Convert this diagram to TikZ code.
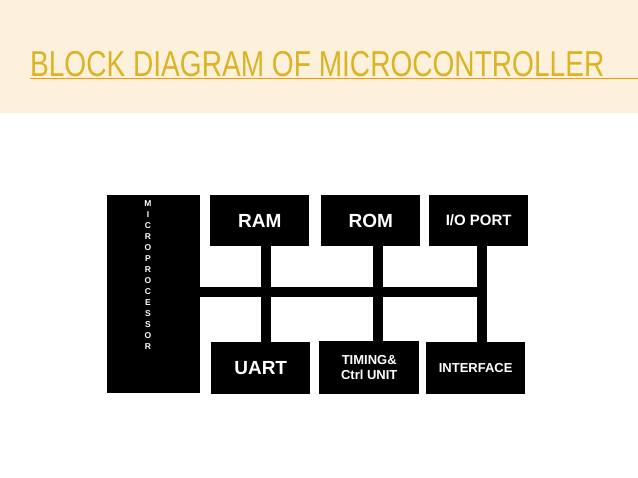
\documentclass[tikz,border=0pt]{standalone}
\usepackage{fontspec}
\setmainfont{Liberation Sans}
\newfontfamily\titlefont{Open Sans}
\begin{document}
\begin{tikzpicture}[x=1pt,y=-1pt,
  blk/.style={fill=black,draw=none},
  lbl/.style={text=white,font=\bfseries\fontsize{15}{15}\selectfont,align=center},
  bus/.style={line width=10pt,draw=black}]
\useasboundingbox (0,0) rectangle (638,478);
\fill[yellow!15!orange!12] (0,0) rectangle (638,113);
\fill[white] (0,113) rectangle (638,478);
\draw[orange!80!yellow,line width=0.8pt] (30,78) -- (638,78);
\node[anchor=base west,inner sep=0pt,text=yellow!60!orange!85!black,xscale=0.78] (title) at (30,77)
  {\fontsize{36}{36}\selectfont BLOCK DIAGRAM OF MICROCONTROLLER};
% bus
\coordinate (busL) at (200,292);
\coordinate (busR) at (487,292);
\draw[bus] (busL) -- (busR);
\foreach \x in {266,378,482}{\draw[bus] (\x,240) -- (\x,350);}
\node[blk,minimum width=93pt,minimum height=198pt,anchor=north west] (mp) at (107,195) {};
\node[text=white,font=\bfseries\fontsize{8.5}{11}\selectfont,align=center,anchor=north] (mptext) at (148,197)
  {M\\I\\C\\R\\O\\P\\R\\O\\C\\E\\S\\S\\O\\R};
\node[blk,lbl,minimum width=99pt,minimum height=51pt,anchor=north west] (ram) at (210,195) {\fontsize{19}{19}\selectfont RAM};
\node[blk,lbl,minimum width=99pt,minimum height=51pt,anchor=north west] (rom) at (321,195) {\fontsize{19}{19}\selectfont ROM};
\node[blk,lbl,minimum width=99pt,minimum height=51pt,anchor=north west] (io) at (429,195) {I/O PORT};
\node[blk,lbl,minimum width=99pt,minimum height=52pt,anchor=north west] (uart) at (211,342) {\fontsize{19}{19}\selectfont UART};
\node[blk,lbl,minimum width=100pt,minimum height=53pt,anchor=north west] (tim) at (319,341) {\fontsize{13}{14}\selectfont TIMING\&\\\fontsize{13}{14}\selectfont Ctrl UNIT};
\node[blk,lbl,minimum width=99pt,minimum height=52pt,anchor=north west] (intf) at (426,342) {\fontsize{13}{13}\selectfont INTERFACE};
\end{tikzpicture}
\end{document}
